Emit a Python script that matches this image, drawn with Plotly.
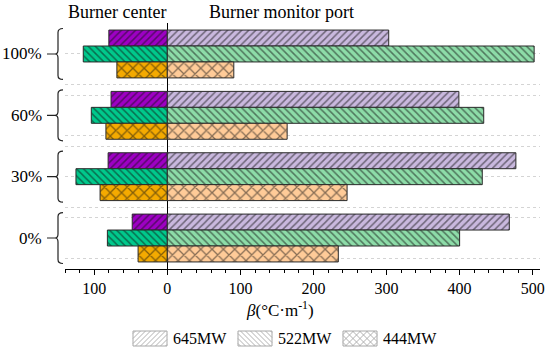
import plotly.graph_objects as go

# ---------------- data ----------------
categories = ["0%", "30%", "60%", "100%"]
cat_pos = [0, 1, 2, 3]
series = ["645MW", "522MW", "444MW"]

# Burner center (plotted to the left of zero)
center_645 = [48, 81, 77, 80]
center_522 = [82, 125, 104, 115]
center_444 = [40, 92, 84, 69]

# Burner monitor port (plotted to the right of zero)
port_645 = [468, 477, 399, 303]
port_522 = [400, 431, 433, 502]
port_444 = [234, 246, 164, 91]

x_tickvals = [-100, 0, 100, 200, 300, 400, 500]
x_ticktext = ["100", "0", "100", "200", "300", "400", "500"]
grid_vals = [-0.33, 0.33, 0.5, 1.0, 1.5, 1.67, 2.33, 2.5, 3.0]

# ---------------- style ----------------
FONT = "Liberation Serif"
dark = {"645MW": "#9E00C4", "522MW": "#00C98C", "444MW": "#F4AA00"}
light = {"645MW": "#C9B8DE", "522MW": "#8DDCA8", "444MW": "#FFCB98"}
shapes_pat = {"645MW": "/", "522MW": "\\", "444MW": "x"}
sizes_pat = {"645MW": 5, "522MW": 5, "444MW": 8}
offsets = {"645MW": 0.13, "522MW": -0.13, "444MW": -0.39}
BW = 0.26

center_vals = {"645MW": center_645, "522MW": center_522, "444MW": center_444}
port_vals = {"645MW": port_645, "522MW": port_522, "444MW": port_444}

fig = go.Figure()
for s in series:
    for vals, cols in (([-v for v in center_vals[s]], dark),
                       (port_vals[s], light)):
        fig.add_trace(go.Bar(
            x=vals, y=cat_pos, orientation="h", width=BW, offset=offsets[s],
            showlegend=False, name=s,
            marker=dict(color=cols[s], line=dict(color="#2a2a2a", width=1),
                        pattern=dict(shape=shapes_pat[s], fgcolor="#111111",
                                     bgcolor=cols[s], size=sizes_pat[s],
                                     solidity=0.3)),
        ))

# ---------------- geometry (layout only) ----------------
W, H = 550, 353
PLOT_L, PLOT_R, PLOT_T, PLOT_B = 65, 540, 23, 269
L, R = PLOT_L, W - PLOT_R
T, B = PLOT_T, H - PLOT_B
PW = PLOT_R - PLOT_L
PH = PLOT_B - PLOT_T
YMIN, YMAX = -0.505, 3.505


def pxx(px):
    return (px - PLOT_L) / PW


def pxy(py):
    return (PLOT_B - py) / PH


def y_to_paper(y):
    return (y - YMIN) / (YMAX - YMIN)


shapes = []
annotations = []
d = 4 / PH
for c, lab in zip(cat_pos, categories):
    top = y_to_paper(c + 0.415)
    bot = y_to_paper(c - 0.415)
    mid = y_to_paper(c)
    xs, xh, xt, xl = pxx(58), pxx(63), pxx(55), pxx(47)
    path = (f"M{xh},{top} Q{xs},{top} {xs},{top - d} L{xs},{mid + d} "
            f"Q{xs},{mid} {xt},{mid} Q{xs},{mid} {xs},{mid - d} "
            f"L{xs},{bot + d} Q{xs},{bot} {xh},{bot} "
            f"M{xl},{mid} L{xt},{mid}")
    shapes.append(dict(type="path", xref="paper", yref="paper", path=path,
                       line=dict(color="#222222", width=1.2)))
    annotations.append(dict(text=lab, xref="paper", yref="paper",
                            x=pxx(44), y=mid, xanchor="right",
                            yanchor="middle", showarrow=False,
                            font=dict(family=FONT, size=17, color="black")))

annotations += [
    dict(text="Burner center", xref="paper", yref="paper",
         x=pxx(168), y=pxy(12), xanchor="right", yanchor="middle",
         showarrow=False, font=dict(family=FONT, size=18, color="black")),
    dict(text="Burner monitor port", xref="paper", yref="paper",
         x=pxx(207), y=pxy(12), xanchor="left", yanchor="middle",
         showarrow=False, font=dict(family=FONT, size=18, color="black")),
    dict(text="<i>β</i>(°C·m<sup>-1</sup>)", xref="paper", yref="paper",
         x=pxx(280), y=pxy(309), xanchor="center",
         yanchor="middle", showarrow=False,
         font=dict(family=FONT, size=17, color="black")),
]

# ---------------- hand-drawn legend (white swatches, grey hatching) ----------------
legend_x = {"645MW": 133, "522MW": 238, "444MW": 343}
SW_W, SW_H = 34, 15
SW_Y0 = 331
LEG_GREY = "#a8a8a8"


def hatch_path(x0, y0, x1, y1, kind, step):
    segs = []
    if kind in ("/", "x"):
        c = x0 + y0 + step / 2
        while c < x1 + y1:
            xa, xb = max(x0, c - y1), min(x1, c - y0)
            if xb > xa:
                segs.append(((xa, c - xa), (xb, c - xb)))
            c += step
    if kind in ("\\", "x"):
        c = x0 - y1 + step / 2
        while c < x1 - y0:
            xa, xb = max(x0, c + y0), min(x1, c + y1)
            if xb > xa:
                segs.append(((xa, xa - c), (xb, xb - c)))
            c += step
    return " ".join(f"M{pxx(a[0])},{pxy(a[1])} L{pxx(b[0])},{pxy(b[1])}"
                    for a, b in segs)


for s in series:
    x0 = legend_x[s]
    x1 = x0 + SW_W
    y0, y1 = SW_Y0, SW_Y0 + SW_H
    step = 7 if shapes_pat[s] == "x" else 5
    shapes.append(dict(type="path", xref="paper", yref="paper",
                       path=hatch_path(x0, y0, x1, y1, shapes_pat[s], step),
                       line=dict(color=LEG_GREY, width=0.9)))
    shapes.append(dict(type="rect", xref="paper", yref="paper",
                       x0=pxx(x0), x1=pxx(x1), y0=pxy(y1), y1=pxy(y0),
                       line=dict(color=LEG_GREY, width=1)))
    annotations.append(dict(text=s, xref="paper", yref="paper",
                            x=pxx(x1 + 4), y=pxy(y0 + SW_H / 2),
                            xanchor="left", yanchor="middle", showarrow=False,
                            font=dict(family=FONT, size=16, color="black")))

fig.update_layout(
    width=W, height=H, autosize=False,
    margin=dict(l=L, r=R, t=T, b=B, autoexpand=False),
    plot_bgcolor="white", paper_bgcolor="white",
    barmode="overlay", showlegend=False,
    font=dict(family=FONT, size=16, color="black"),
    shapes=shapes, annotations=annotations,
    xaxis=dict(range=[-140, 510], tickmode="array", tickvals=x_tickvals,
               ticktext=x_ticktext, ticks="outside", ticklen=5, tickcolor="black",
               showline=True, linecolor="black", linewidth=1,
               zeroline=True, zerolinecolor="black", zerolinewidth=1,
               showgrid=False, automargin=False,
               tickfont=dict(family=FONT, size=16, color="black"),
               minor=dict(tickmode="linear", tick0=0, dtick=20, ticks="outside",
                          ticklen=3, tickcolor="black")),
    yaxis=dict(range=[YMIN, YMAX], tickmode="array", tickvals=grid_vals,
               showticklabels=False, ticks="", showline=False, zeroline=False,
               automargin=False,
               showgrid=True, gridcolor="#d4d4d4", griddash="dot", gridwidth=1),
)

# remove the default 8px page margin so the figure sits at the window origin
fig.write_html("out.html",
               config={"displayModeBar": False},
               post_script="document.body.style.margin='0';"
                           "document.body.style.padding='0';"
                           "document.body.style.overflow='hidden';")
